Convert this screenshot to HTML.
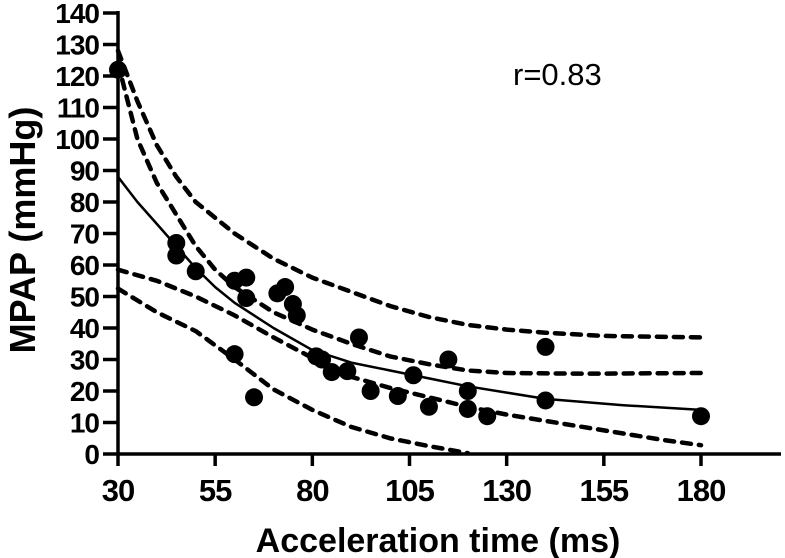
<!DOCTYPE html>
<html><head><meta charset="utf-8"><style>
html,body{margin:0;padding:0;background:#fff;}
svg{display:block;font-family:"Liberation Sans",Arial,sans-serif;}
</style></head><body>
<svg id="chart" width="785" height="558" viewBox="0 0 785 558" xmlns="http://www.w3.org/2000/svg"></svg>
<script>
const xTicks=[30,55,80,105,130,155,180];
const yTicks=[0,10,20,30,40,50,60,70,80,90,100,110,120,130,140];
const ptsX=[30,45,45,50,60,63,63,60,65,71,73,75,76,81,82.5,85,89,92,95,102,106,110,115,120,120,125,140,140,180];
const ptsY=[122,67,63,58,55,56,49.5,31.7,18,51,53,47.6,44,31,30,26,26.3,37,20,18.4,25,15,30,20,14.3,12,34,17,12];
const fitX=[30,35,40,45,50,55,60,70,80,90,100,110,120,130,140,160,180];
const fitY=[88,80,73,66,59,53,48,40,33,29,26.5,24,21.5,19.5,17.5,15.5,14];
const upOutX=[30,35,40,45,50,60,70,80,90,100,110,120,130,140,155,180];
const upOutY=[128,112,98,88,80,70,62,56,51.5,47,43.5,41,39.5,38.5,37.5,37];
const upInX=[30,35,40,45,50,55,60,70,80,90,100,110,120,130,150,180];
const upInY=[124,100,86,76,66,58.5,53,45,39.5,35,31,28.5,26.5,25.7,25.5,25.7];
const loInX=[30,40,50,60,70,80,90,100,110,120,130,140,150,160,170,180];
const loInY=[58.5,55,50,44,37,30.5,24.5,21,18,15,12.5,10.5,8.5,6.5,4.5,2.8];
const loOutX=[30,40,50,60,70,80,90,100,110,120];
const loOutY=[52.5,45,39,30,20.5,14,8.6,5,2.5,0.3];

const NS="http://www.w3.org/2000/svg";
const svg=document.getElementById('chart');
const X0=118,X1=701,Y0=454,Y1=13;
const sx=v=>X0+(v-30)/150*(X1-X0);
const sy=v=>Y0-v/140*(Y0-Y1);
function mk(t,a){const e=document.createElementNS(NS,t);for(const k in a)e.setAttribute(k,a[k]);svg.appendChild(e);return e;}

function curve(xs,ys,name,dash,w){
  const d=xs.map((x,i)=>(i?'L':'M')+sx(x).toFixed(1)+','+sy(ys[i]).toFixed(1)).join(' ');
  const p=mk('path',{d:d,fill:'none',stroke:'#000','stroke-width':w,'stroke-linejoin':'round'});
  if(dash){p.setAttribute('stroke-dasharray',dash);p.setAttribute('stroke-linecap','round');}
  
  
}
curve(fitX,fitY,'regression-line',null,2.5);
curve(upOutX,upOutY,'prediction-band-upper','9 8',4.5);
curve(upInX,upInY,'confidence-band-upper','9 8',4.5);
curve(loInX,loInY,'confidence-band-lower','9 8',4.5);
curve(loOutX,loOutY,'prediction-band-lower','9 8',4.5);

ptsX.forEach((x,i)=>{
  const c=mk('circle',{cx:sx(x),cy:sy(ptsY[i]),r:9,fill:'#000'});
  
  
});

let e=mk('line',{x1:X0,y1:Y1-2,x2:X0,y2:Y0+1.5,stroke:'#000','stroke-width':3.5});


e=mk('line',{x1:X0-1.5,y1:Y0,x2:781,y2:Y0,stroke:'#000','stroke-width':3.5});



yTicks.forEach(v=>{
  const y=sy(v);
  let t=mk('line',{x1:103,y1:y,x2:X0,y2:y,stroke:'#000','stroke-width':3.5});
  
  
  let l=mk('text',{x:99,y:y+10,'text-anchor':'end','font-size':28,'font-weight':'bold','letter-spacing':-1});
  l.textContent=v;
  
  
});
xTicks.forEach(v=>{
  const x=sx(v);
  let t=mk('line',{x1:x,y1:Y0,x2:x,y2:466,stroke:'#000','stroke-width':3.5});
  
  
  let l=mk('text',{x:x,y:501,'text-anchor':'middle','font-size':31,'font-weight':'bold','letter-spacing':-1});
  l.textContent=v;
  
  
});

let t=mk('text',{x:513,y:85,'font-size':31});
t.textContent='r=0.83';


t=mk('text',{x:438,y:552,'text-anchor':'middle','font-size':34,'font-weight':'bold'});
t.textContent='Acceleration time (ms)';


t=mk('text',{x:0,y:0,'text-anchor':'middle','font-size':36,'font-weight':'bold',transform:'translate(35,230) rotate(-90)'});
t.textContent='MPAP (mmHg)';


</script>
</body></html>
